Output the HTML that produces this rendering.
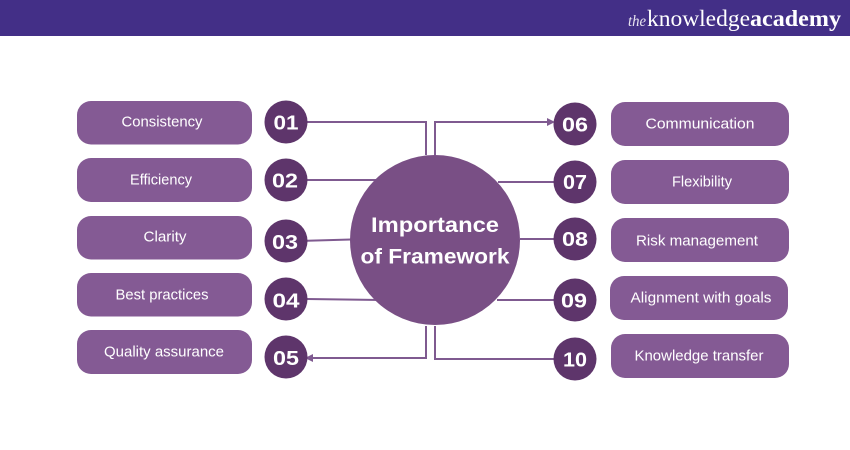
<!DOCTYPE html>
<html>
<head>
<meta charset="utf-8">
<style>
html,body{margin:0;padding:0;background:#fff;width:850px;height:450px;overflow:hidden}
svg{display:block}
text{font-family:"Liberation Sans",sans-serif}
.l{font-size:14.500px;fill:#fff;text-anchor:middle}
.n{font-size:20.500px;font-weight:bold;fill:#fff;text-anchor:middle}
.t{font-size:21.500px;font-weight:bold;fill:#fff;text-anchor:middle}
.c{stroke:#7f5a90;stroke-width:2;fill:none}
</style>
</head>
<body>
<svg width="850" height="450" viewBox="0 0 850 450" xmlns="http://www.w3.org/2000/svg">
<rect width="850" height="450" fill="#fff"/>
<rect width="850" height="36" fill="#432f87"/>
<text x="628" y="26" font-size="16" font-style="italic" fill="#e8e4f0" style="font-family:'Liberation Serif',serif" textLength="18" lengthAdjust="spacingAndGlyphs">the</text>
<text x="647" y="26" font-size="23" fill="#fff" style="font-family:'Liberation Serif',serif" textLength="103" lengthAdjust="spacingAndGlyphs">knowledge</text>
<text x="750" y="26" font-size="23" font-weight="bold" fill="#fff" style="font-family:'Liberation Serif',serif" textLength="91" lengthAdjust="spacingAndGlyphs">academy</text>

<g class="c">
<path class="c" d="M307 122H426V155"/>
<path class="c" d="M435 155V122H548"/>
<path class="c" d="M307 180H376"/>
<path class="c" d="M307 240.700L351 239.500"/>
<path class="c" d="M307 299L381 300"/>
<path class="c" d="M426 326V358H312"/>
<path class="c" d="M435 326V359H555"/>
<path class="c" d="M498 182H555"/>
<path class="c" d="M520 239H555"/>
<path class="c" d="M497 300H555"/>
</g>
<polygon points="555,122 547,118 547,126" fill="#7f5a90"/>
<polygon points="305,358 313,354 313,362" fill="#7f5a90"/>

<g fill="#845a94">
<rect x="77" y="101" width="175" height="43.500" rx="14"/>
<rect x="77" y="158" width="175" height="44" rx="14"/>
<rect x="77" y="216" width="175" height="43.500" rx="14"/>
<rect x="77" y="273" width="175" height="43.500" rx="14"/>
<rect x="77" y="330" width="175" height="44" rx="14"/>
<rect x="611" y="102" width="178" height="44" rx="14"/>
<rect x="611" y="160" width="178" height="44" rx="14"/>
<rect x="611" y="218" width="178" height="44" rx="14"/>
<rect x="610" y="276" width="178" height="44" rx="14"/>
<rect x="611" y="334" width="178" height="44" rx="14"/>
</g>

<g fill="#5e356b">
<circle cx="286" cy="122" r="21.500"/>
<circle cx="286" cy="180" r="21.500"/>
<circle cx="286" cy="241" r="21.500"/>
<circle cx="286" cy="299" r="21.500"/>
<circle cx="286" cy="357" r="21.500"/>
<circle cx="575" cy="124" r="21.500"/>
<circle cx="575" cy="182" r="21.500"/>
<circle cx="575" cy="239" r="21.500"/>
<circle cx="575" cy="300" r="21.500"/>
<circle cx="575" cy="359" r="21.500"/>
</g>
<circle cx="435" cy="240" r="85" fill="#794f85"/>

<text class="t" x="435" y="232" textLength="128" lengthAdjust="spacingAndGlyphs">Importance</text>
<text class="t" x="435" y="263.500" textLength="149" lengthAdjust="spacingAndGlyphs">of Framework</text>

<text class="n" x="286" y="129.500" textLength="25" lengthAdjust="spacingAndGlyphs">01</text>
<text class="n" x="285" y="187.300" textLength="26" lengthAdjust="spacingAndGlyphs">02</text>
<text class="n" x="285" y="249" textLength="26" lengthAdjust="spacingAndGlyphs">03</text>
<text class="n" x="286" y="307.500" textLength="27" lengthAdjust="spacingAndGlyphs">04</text>
<text class="n" x="286" y="365" textLength="26" lengthAdjust="spacingAndGlyphs">05</text>
<text class="n" x="575" y="131.500" textLength="26" lengthAdjust="spacingAndGlyphs">06</text>
<text class="n" x="575" y="189" textLength="24" lengthAdjust="spacingAndGlyphs">07</text>
<text class="n" x="575" y="246" textLength="26" lengthAdjust="spacingAndGlyphs">08</text>
<text class="n" x="574" y="307.300" textLength="26" lengthAdjust="spacingAndGlyphs">09</text>
<text class="n" x="575" y="366.300" textLength="24" lengthAdjust="spacingAndGlyphs">10</text>

<text class="l" x="162" y="126.500" textLength="81" lengthAdjust="spacingAndGlyphs">Consistency</text>
<text class="l" x="161" y="184.500" textLength="62" lengthAdjust="spacingAndGlyphs">Efficiency</text>
<text class="l" x="165" y="241.500" textLength="43" lengthAdjust="spacingAndGlyphs">Clarity</text>
<text class="l" x="162" y="299.500" textLength="93" lengthAdjust="spacingAndGlyphs">Best practices</text>
<text class="l" x="164" y="356.300" textLength="120" lengthAdjust="spacingAndGlyphs">Quality assurance</text>
<text class="l" x="700" y="128.300" textLength="109" lengthAdjust="spacingAndGlyphs">Communication</text>
<text class="l" x="702" y="186.300" textLength="60" lengthAdjust="spacingAndGlyphs">Flexibility</text>
<text class="l" x="697" y="245.500" textLength="122" lengthAdjust="spacingAndGlyphs">Risk management</text>
<text class="l" x="701" y="302.300" textLength="141" lengthAdjust="spacingAndGlyphs">Alignment with goals</text>
<text class="l" x="699" y="360.300" textLength="129" lengthAdjust="spacingAndGlyphs">Knowledge transfer</text>
</svg>
</body>
</html>
